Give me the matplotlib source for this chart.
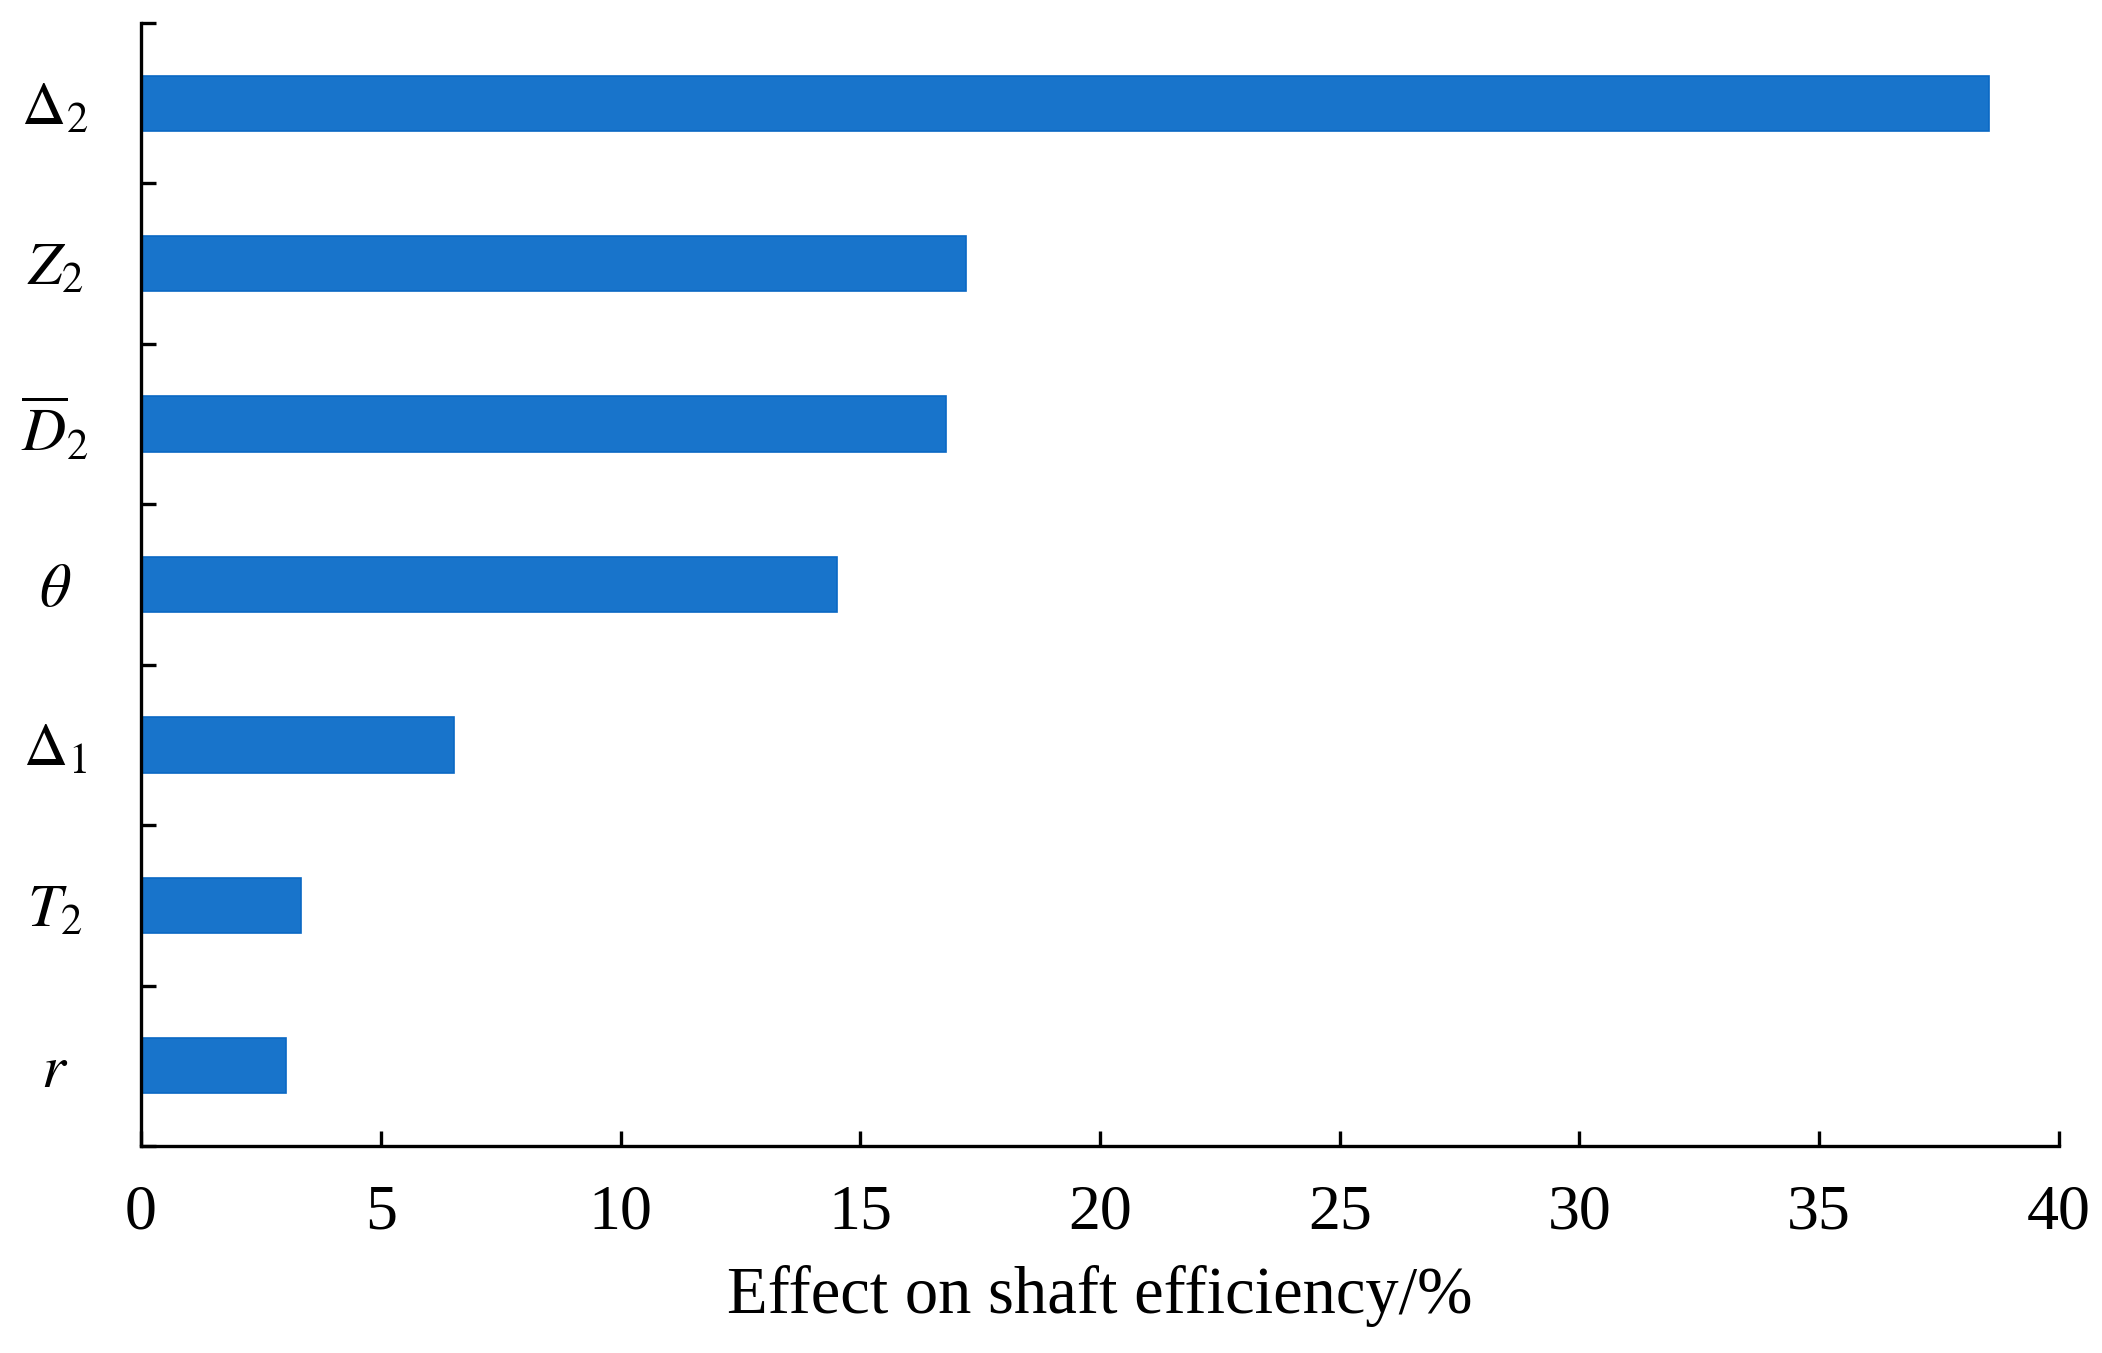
import matplotlib
matplotlib.use("Agg")
import matplotlib.pyplot as plt
import numpy as np

# Data (bottom to top)
categories = [r'$r$', r'$T_2$', r'$\Delta_1$', r'$\theta$', r'$\overline{D}_2$', r'$Z_2$', r'$\Delta_2$']
values = [3.02, 3.33, 6.52, 14.52, 16.78, 17.2, 38.55]
xticks = [0, 5, 10, 15, 20, 25, 30, 35, 40]
xlabel = "Effect on shaft efficiency/%"

plt.rcParams['font.family'] = ['Liberation Serif', 'DejaVu Serif']
plt.rcParams['mathtext.fontset'] = 'stix'

fig = plt.figure(figsize=(10.51, 6.765), dpi=200)
ax = fig.add_axes([0.0671, 0.153, 0.9124, 0.830])

n = len(categories)
pos = np.arange(n)
ax.barh(pos, values, height=0.345, color='#1874CB', edgecolor='#0A68C4', linewidth=0.6)

ax.set_xlim(0, 40)
ax.set_ylim(-0.5, n - 0.5)
ax.set_xticks(xticks)
ax.set_xticklabels([str(t) for t in xticks])

ax.set_yticks(np.arange(n + 1) - 0.5)
ax.set_yticklabels([])
ax.set_yticks(pos, minor=True)
ax.set_yticklabels(categories, minor=True, fontsize=22)
for lbl in ax.get_yticklabels(minor=True):
    lbl.set_horizontalalignment('center')

ax.tick_params(axis='y', which='major', direction='in', length=5.5, width=1.2, color='black')
ax.tick_params(axis='y', which='minor', length=0, pad=31)
ax.tick_params(axis='x', which='major', direction='in', length=5.5, width=1.2, pad=14, labelsize=23)

for s in ['top', 'right']:
    ax.spines[s].set_visible(False)
for s in ['left', 'bottom']:
    ax.spines[s].set_linewidth(1.2)

ax.set_xlabel(xlabel, fontsize=24, labelpad=8)

fig.savefig('out.png', dpi=200)
